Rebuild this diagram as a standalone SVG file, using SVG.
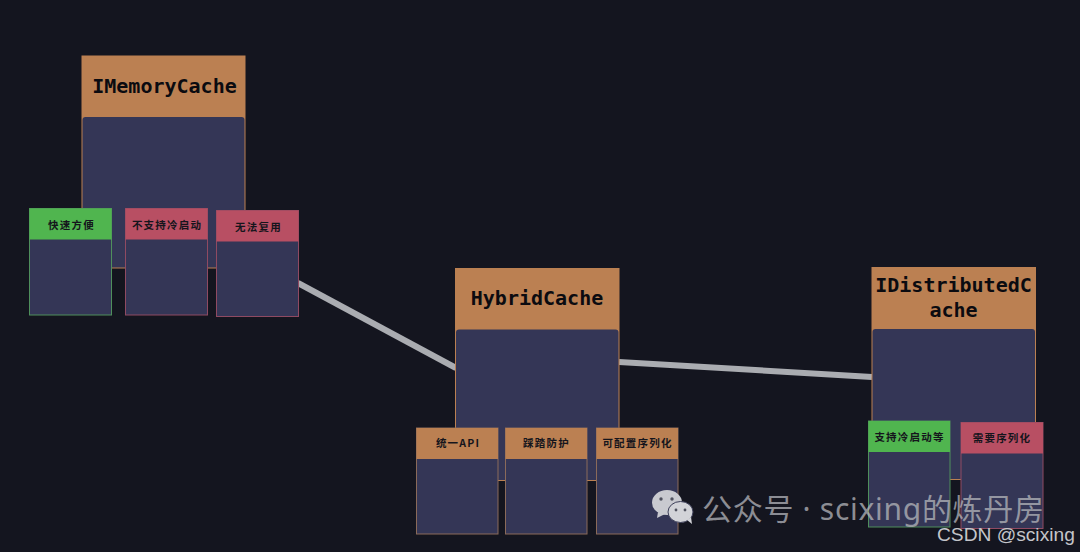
<svg xmlns="http://www.w3.org/2000/svg" width="1080" height="552" viewBox="0 0 1080 552">
<style>
.frame{stroke-width:1}
.o{fill:#bb8052}.g{fill:#50b54f}.r{fill:#b84f63}
.fo{stroke:#8a6a5a}.fg{stroke:#4f8f5c}.fr{stroke:#8f4a62}
.body{fill:#343656}
.title{font-family:"DejaVu Sans Mono",monospace;font-weight:700;font-size:20px;fill:#0b0b10;text-anchor:middle}
.tag{font-family:"Noto Sans CJK SC","Liberation Sans",sans-serif;font-weight:700;font-size:10.5px;fill:#15151c;text-anchor:middle;letter-spacing:1.2px}
.line{stroke:#aaacb1;stroke-width:6;fill:none}
.wm{font-family:"Noto Sans","Noto Sans CJK SC",sans-serif;font-size:30px;fill:#b4b6bb;fill-opacity:.75}
.csdn{font-family:"Liberation Sans",sans-serif;font-size:19.2px;fill:#c4c5ca}
</style>
<rect width="1080" height="552" fill="#14151f"/>
<g id="connectors">
<line class="line" x1="298" y1="283" x2="456" y2="368"/>
<line class="line" x1="619" y1="362" x2="872" y2="377"/>
</g>
<g id="imemorycache">
<rect class="o" x="81.5" y="55.5" width="164" height="213"/>
<rect class="body" x="82.5" y="117" width="162" height="150.5" rx="3"/>
<text class="title" x="164.5" y="93">IMemoryCache</text>
</g>
<g id="hybridcache">
<rect class="o" x="455" y="268" width="164.5" height="213"/>
<rect class="body" x="456" y="329.5" width="162.5" height="150.5" rx="3"/>
<text class="title" x="537" y="305">HybridCache</text>
</g>
<g id="idistributedcache">
<rect class="o" x="871.5" y="267" width="164.5" height="213"/>
<rect class="body" x="872.5" y="329" width="162.5" height="150" rx="3"/>
<text class="title" x="953.5" y="292">IDistributedC</text>
<text class="title" x="953.5" y="317">ache</text>
</g>
<g id="card-kuaisu">
<rect class="body fg" x="29.5" y="208.5" width="82" height="106.5"/>
<rect class="g" x="29.5" y="208.5" width="82" height="31"/>
<text class="tag" x="71.5" y="228.5">快速方便</text>
</g>
<g id="card-lengqidong">
<rect class="body fr" x="125.5" y="208.5" width="82" height="106.5"/>
<rect class="r" x="125.5" y="208.5" width="82" height="31"/>
<text class="tag" x="167" y="228.5">不支持冷启动</text>
</g>
<g id="card-fuyong">
<rect class="body fr" x="216.5" y="210.5" width="82" height="106"/>
<rect class="r" x="216.5" y="210.5" width="82" height="31"/>
<text class="tag" x="258.5" y="230.5">无法复用</text>
</g>
<g id="card-api">
<rect class="body fo" x="416.5" y="428" width="81.5" height="106"/>
<rect class="o" x="416.5" y="428" width="81.5" height="31"/>
<text class="tag" x="458" y="447">统一API</text>
</g>
<g id="card-fangta">
<rect class="body fo" x="505.5" y="428" width="81.5" height="106"/>
<rect class="o" x="505.5" y="428" width="81.5" height="31"/>
<text class="tag" x="546.5" y="447">踩踏防护</text>
</g>
<g id="card-xuliehua">
<rect class="body fo" x="596.5" y="428" width="81.5" height="106"/>
<rect class="o" x="596.5" y="428" width="81.5" height="31"/>
<text class="tag" x="637.5" y="447">可配置序列化</text>
</g>
<g id="card-zhichi">
<rect class="body fg" x="868.5" y="421" width="81.5" height="106"/>
<rect class="g" x="868.5" y="421" width="81.5" height="31"/>
<text class="tag" x="909.5" y="440.5">支持冷启动等</text>
</g>
<g id="card-xuyao">
<rect class="body fr" x="961" y="422.5" width="82" height="106"/>
<rect class="r" x="961" y="422.5" width="82" height="31"/>
<text class="tag" x="1002" y="442">需要序列化</text>
</g>
<g id="watermark">
<ellipse cx="667" cy="502.5" rx="15" ry="12.5" fill="#c9cad0"/>
<path d="M658 512l-1 6 8-4z" fill="#c9cad0"/>
<ellipse cx="680.5" cy="512" rx="12.5" ry="10.5" fill="#d2d3d8" stroke="#3c3e58" stroke-width="1"/>
<path d="M687 520l5 4-1-7z" fill="#d2d3d8"/>
<circle cx="661" cy="499" r="1.7" fill="#50525f"/><circle cx="672" cy="499" r="1.7" fill="#50525f"/>
<circle cx="676" cy="510" r="1.4" fill="#50525f"/><circle cx="685" cy="510" r="1.4" fill="#50525f"/>
<text class="wm" x="702" y="520" textLength="342" lengthAdjust="spacing">公众号 · scixing的炼丹房</text>
<text class="csdn" x="937" y="541">CSDN @scixing</text>
</g>
</svg>
